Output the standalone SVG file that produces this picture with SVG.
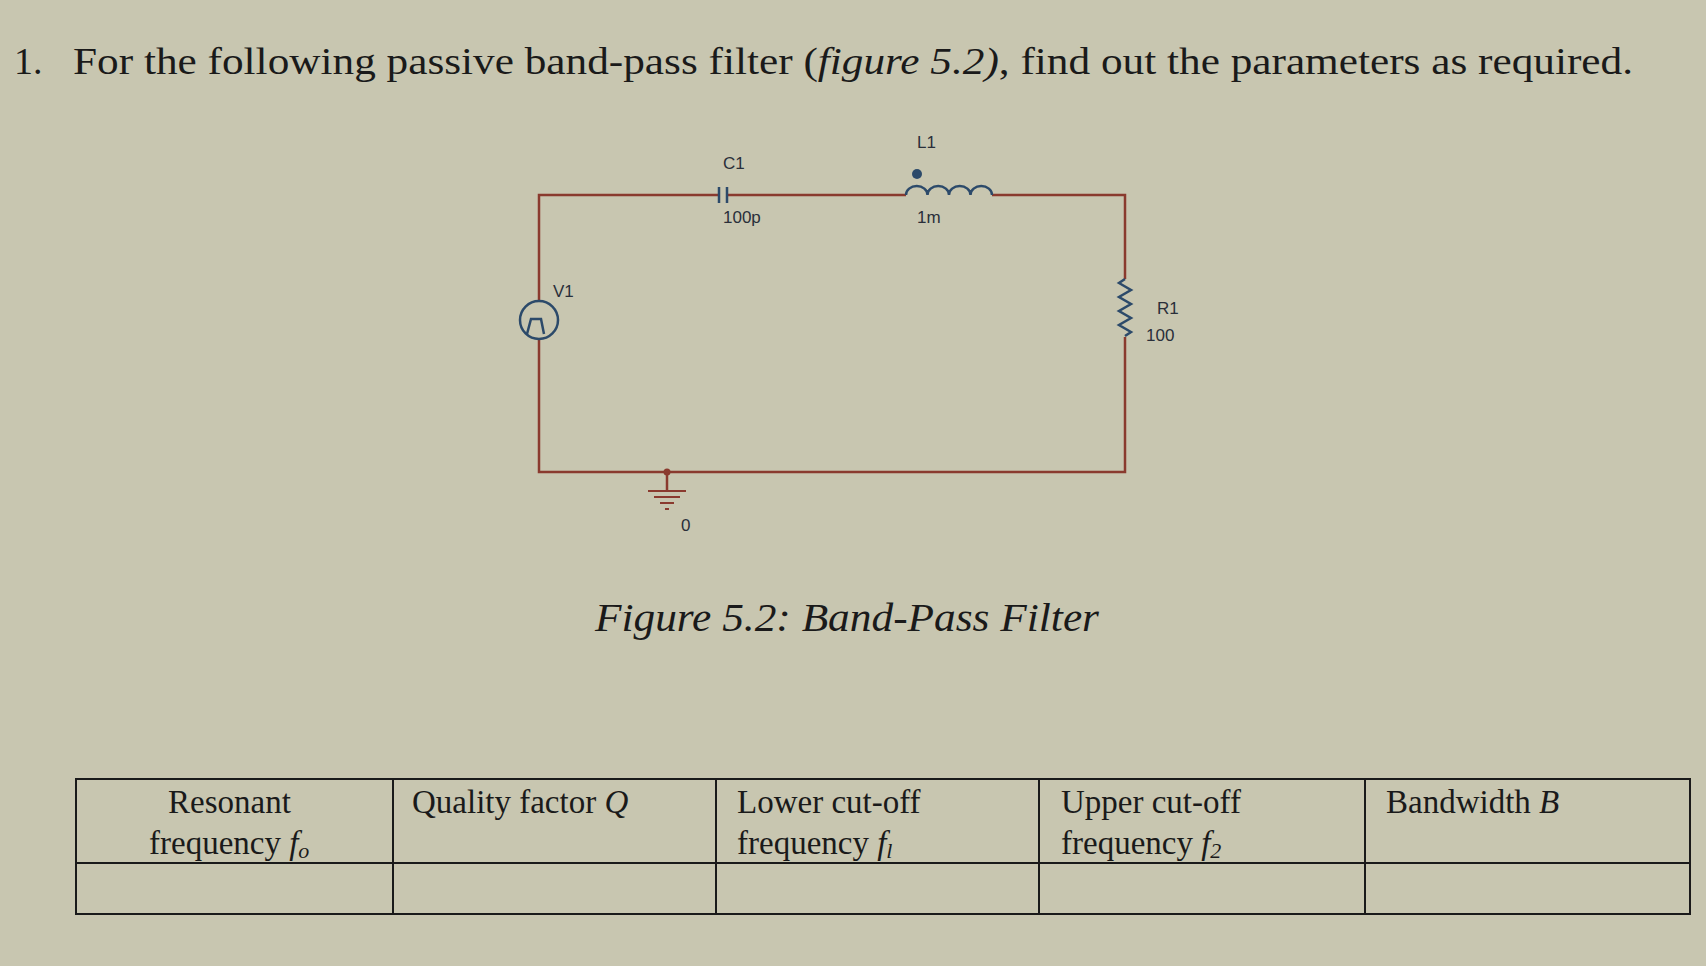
<svg xmlns="http://www.w3.org/2000/svg" width="1706" height="966" viewBox="0 0 1706 966">
<style>
.serif{font-family:"Liberation Serif",serif;fill:#1a1a1a}
.sans{font-family:"Liberation Sans",sans-serif;fill:#2a2f3a;font-size:17px}
.wire{stroke:#8a3a2e;stroke-width:2.5;fill:none}
.comp{stroke:#2c4a6a;stroke-width:2.5;fill:none}
.tbl{stroke:#1a1a1a;stroke-width:2;fill:none}
</style>
<rect width="1706" height="966" fill="#c8c6b0"/>
<text class="serif" x="14" y="74" font-size="38">1.</text>
<text class="serif" x="73" y="74" font-size="38" textLength="1560" lengthAdjust="spacingAndGlyphs">For the following passive band-pass filter (<tspan font-style="italic">figure 5.2)</tspan>, find out the parameters as required.</text>
<g id="connectors">
<path class="wire" d="M539,300 V195 H719 M727,195 H906 M992,195 H1125 V279 M1125,337 V472 H539 V340"/>
</g>
<g id="C1"><path class="comp" d="M719,187 V203 M727,187 V203"/><text class="sans" x="723" y="169">C1</text><text class="sans" x="723" y="223">100p</text></g>
<g id="L1"><path class="comp" d="M906,195 a10.75,9 0 0 1 21.5,0 a10.75,9 0 0 1 21.5,0 a10.75,9 0 0 1 21.5,0 a10.75,9 0 0 1 21.5,0"/><circle cx="917" cy="174" r="5" fill="#2c4a6a"/><text class="sans" x="917" y="148">L1</text><text class="sans" x="917" y="223">1m</text></g>
<g id="R1"><path class="comp" d="M1125,279 l-6,4 l12,7 l-12,7 l12,7 l-12,7 l12,7 l-12,7 l12,7 l-6,4"/><text class="sans" x="1157" y="314">R1</text><text class="sans" x="1146" y="341">100</text></g>
<g id="V1"><circle class="comp" cx="539" cy="320" r="19"/><path class="comp" d="M527,334 l4,-15 h10 l3,15"/><text class="sans" x="553" y="297">V1</text></g>
<g id="GND"><circle cx="667" cy="472" r="3.5" fill="#8a3a2e"/><path class="wire" d="M667,472 V490"/><path stroke="#8a3a2e" stroke-width="2" d="M648,491 H686 M654,497 H680 M660,503 H674 M665,509 H669"/><text class="sans" x="681" y="531" font-size="19">0</text></g>
<text class="serif" x="595" y="631" font-size="40" font-style="italic" textLength="504" lengthAdjust="spacingAndGlyphs">Figure 5.2: Band-Pass Filter</text>
<g id="table">
<rect class="tbl" x="76" y="779" width="1614" height="135"/>
<path class="tbl" d="M76,863 H1690 M393,779 V914 M716,779 V914 M1039,779 V914 M1365,779 V914"/>
<g class="serif" font-size="33">
<text x="168" y="813">Resonant</text>
<text x="149" y="854">frequency <tspan font-style="italic">f</tspan><tspan font-style="italic" font-size="22" dy="4">o</tspan></text>
<text x="412" y="813">Quality factor <tspan font-style="italic">Q</tspan></text>
<text x="737" y="813">Lower cut-off</text>
<text x="737" y="854">frequency <tspan font-style="italic">f</tspan><tspan font-style="italic" font-size="22" dy="4">l</tspan></text>
<text x="1061" y="813">Upper cut-off</text>
<text x="1061" y="854">frequency  <tspan font-style="italic">f</tspan><tspan font-style="italic" font-size="22" dy="4">2</tspan></text>
<text x="1386" y="813">Bandwidth <tspan font-style="italic">B</tspan></text>
</g>
</g>
</svg>
